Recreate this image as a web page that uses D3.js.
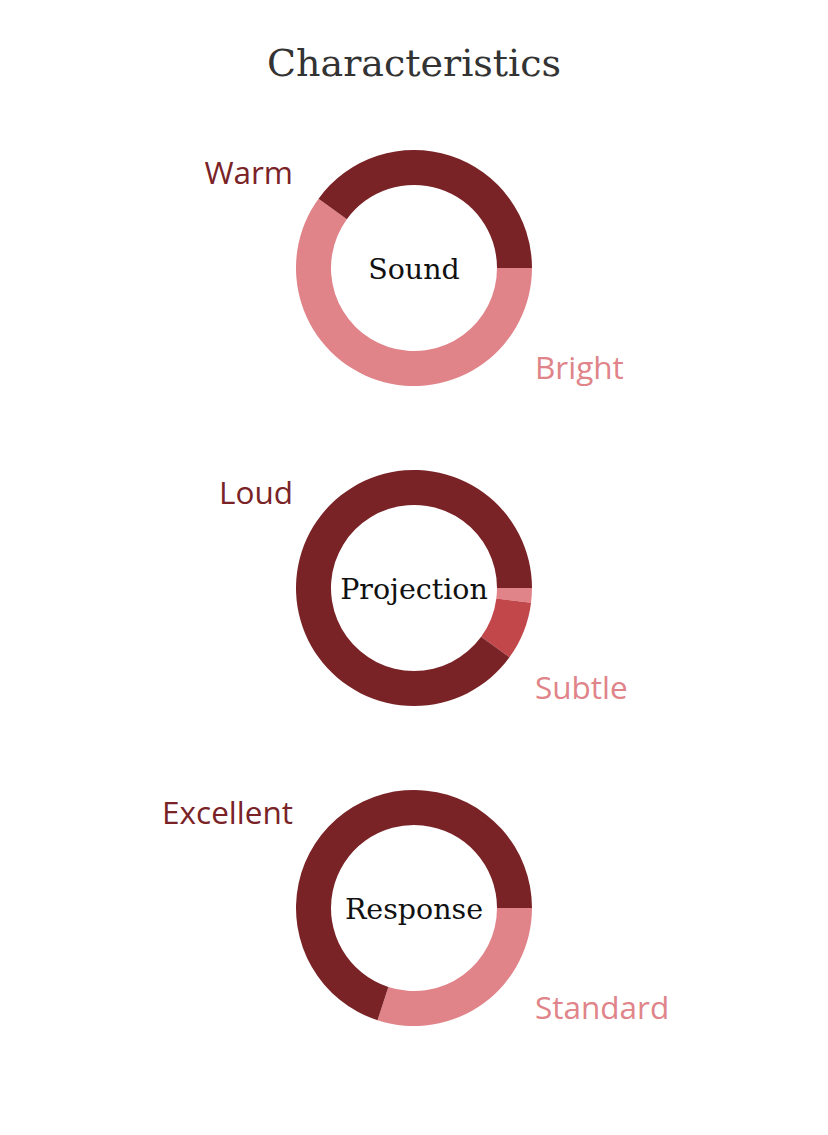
<!DOCTYPE html>
<meta charset="utf-8">
<script src="https://d3js.org/d3.v7.min.js"></script>
<style>
  body { margin: 0; background: #fff; }
</style>
<div id="my_dataviz"></div>
<script>

// data
var charts = ["Sound", "Projection", "Response"];
var leftLabels = ["Warm", "Loud", "Excellent"];
var rightLabels = ["Bright", "Subtle", "Standard"];
// slices go clockwise from 3 o'clock
var soundValues = [60, 40];
var projectionValues = [2, 8, 90];
var responseValues = [30, 70];
var soundColors = ["#e0848a", "#7a2327"];
var projectionColors = ["#e0848a", "#c1474b", "#7a2327"];
var responseColors = ["#e0848a", "#7a2327"];

var width = 828, height = 1135;

var svg = d3.select("#my_dataviz")
  .append("svg")
    .attr("width", width)
    .attr("height", height);

svg.append("text")
  .attr("x", 414)
  .attr("y", 76)
  .attr("text-anchor", "middle")
  .attr("font-family", "'DejaVu Serif', serif")
  .attr("font-size", "38px")
  .attr("fill", "#333")
  .text("Characteristics");

var y = d3.scalePoint()
  .domain(charts)
  .range([268, 908]);

var outerR = 118, innerR = 83;

var arc = d3.arc()
  .innerRadius(innerR)
  .outerRadius(outerR);

var pie = d3.pie()
  .sort(null)
  .value(function(d) { return d.v; })
  .startAngle(Math.PI / 2)
  .endAngle(Math.PI / 2 + 2 * Math.PI);

var series = [soundValues, projectionValues, responseValues];
var colors = [soundColors, projectionColors, responseColors];

charts.forEach(function(name, i) {
  var cy = y(name);
  var g = svg.append("g")
    .attr("transform", "translate(414," + cy + ")");

  var data = series[i].map(function(v, j) { return {v: v, c: colors[i][j]}; });

  g.selectAll("path")
    .data(pie(data))
    .enter()
    .append("path")
      .attr("d", arc)
      .attr("fill", function(d) { return d.data.c; });

  g.append("text")
    .attr("y", 11)
    .attr("text-anchor", "middle")
    .attr("font-family", "'DejaVu Serif', serif")
    .attr("font-size", "28.5px")
    .attr("fill", "#111")
    .text(name);

  g.append("text")
    .attr("x", -121)
    .attr("y", -84)
    .attr("text-anchor", "end")
    .attr("font-family", "'Open Sans', sans-serif")
    .attr("font-size", "31.5px")
    .attr("fill", "#7a2327")
    .text(leftLabels[i]);

  g.append("text")
    .attr("x", 121)
    .attr("y", 111)
    .attr("text-anchor", "start")
    .attr("font-family", "'Open Sans', sans-serif")
    .attr("font-size", "31.5px")
    .attr("fill", "#e0848a")
    .text(rightLabels[i]);
});
</script>
